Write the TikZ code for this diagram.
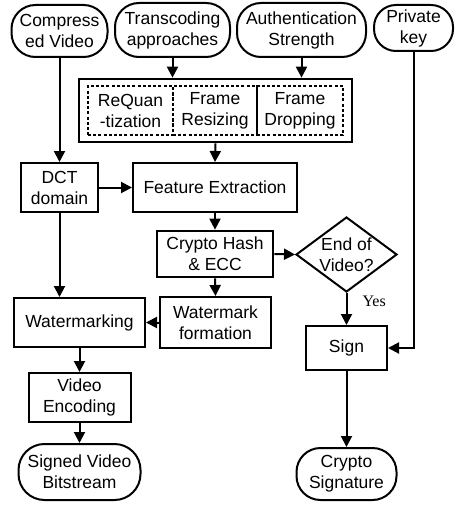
\documentclass[tikz,border=0pt]{standalone}
\usepackage{fontspec}
\setmainfont{Liberation Sans}
\newfontfamily\yesfont{Liberation Serif}
\usetikzlibrary{shapes.geometric,arrows.meta}
\begin{document}
\begin{tikzpicture}[x=1pt,y=1pt,
  every node/.style={font=\fontsize{17.5}{21}\selectfont, align=center, inner sep=0pt},
  box/.style={draw, line width=2pt},
  thickbox/.style={draw, line width=2.7pt},
  term/.style={draw, line width=2pt, rounded corners=24pt},
  sub/.style={draw, line width=1.5pt, dash pattern=on 3pt off 2.2pt},
  arr/.style={line width=2pt, -{Triangle[length=11pt,width=11pt]}}]
\useasboundingbox (0,0) rectangle (474,-527);
% terminals
\node[term, minimum width=96pt, minimum height=52pt] (cv) at (59.5,-31) {Compress\\ed Video};
\node[term, minimum width=115pt, minimum height=54pt] (tr) at (172.5,-30) {Transcoding\\approaches};
\node[term, minimum width=129pt, minimum height=54pt] (au) at (301.5,-30) {Authentication\\Strength};
\node[term, minimum width=79pt, minimum height=46pt, rounded corners=22pt] (pk) at (413.5,-28) {Private\\key};
% transcoding box
\node[thickbox, minimum width=273pt, minimum height=63pt] (big) at (215.5,-110.5) {};
\node[sub, minimum width=85pt, minimum height=49pt] (d1) at (130.5,-110.5) {ReQuan\\-tization};
\node[sub, minimum width=84pt, minimum height=49pt] (d2) at (215,-110.5) {Frame\\Resizing};
\node[sub, minimum width=86pt, minimum height=49pt] (d3) at (300,-110.5) {Frame\\Dropping};
% process boxes
\node[box, minimum width=77pt, minimum height=49pt] (dct) at (59.5,-187.5) {DCT\\domain};
\node[box, minimum width=164pt, minimum height=49pt] (fe) at (215,-187.5) {Feature Extraction};
\node[thickbox, minimum width=116pt, minimum height=46pt] (ch) at (215,-254) {Crypto Hash\\\& ECC};
\node[draw, line width=2pt, diamond, aspect=1.35, inner sep=-12pt, minimum width=101pt, minimum height=75pt] (dia) at (346.5,-254.5) {End of\\Video?};
\node[box, minimum width=81pt, minimum height=44pt] (sign) at (346.5,-348) {Sign};
\node[box, minimum width=111pt, minimum height=51pt] (wf) at (215.5,-322.5) {Watermark\\formation};
\node[box, minimum width=131pt, minimum height=49pt] (wm) at (79.5,-322.5) {Watermarking};
\node[box, minimum width=102pt, minimum height=49pt] (ve) at (79.5,-397.5) {Video\\Encoding};
\node[term, minimum width=122pt, minimum height=56pt, rounded corners=26pt] (svb) at (79.5,-472) {Signed Video\\Bitstream};
\node[term, minimum width=100pt, minimum height=52pt] (cs) at (346.5,-474) {Crypto\\Signature};
% connectors
\draw[arr] (cv.south) -- (dct.north);
\draw[arr] (tr.south) -- (tr.south |- big.north);
\draw[arr] (au.south) -- (au.south |- big.north);
\draw[arr] (big.south) -- (fe.north);
\draw[arr] (dct.east) -- (fe.west);
\draw[arr] (fe.south) -- (ch.north);
\draw[arr] (ch.east) -- (dia.west);
\draw[arr] (dia.south) -- node[pos=0.25, right=15pt, font=\yesfont\fontsize{16}{18}\selectfont] (yes) {Yes} (sign.north);
\draw[arr] (pk.south) |- (sign.east);
\draw[arr] (ch.south) -- (wf.north);
\draw[arr] (wf.west) -- (wm.east);
\draw[arr] (dct.south) -- (dct.south |- wm.north);
\draw[arr] (wm.south) -- (ve.north);
\draw[arr] (ve.south) -- (svb.north);
\draw[arr] (sign.south) -- (cs.north);
\end{tikzpicture}
\end{document}
